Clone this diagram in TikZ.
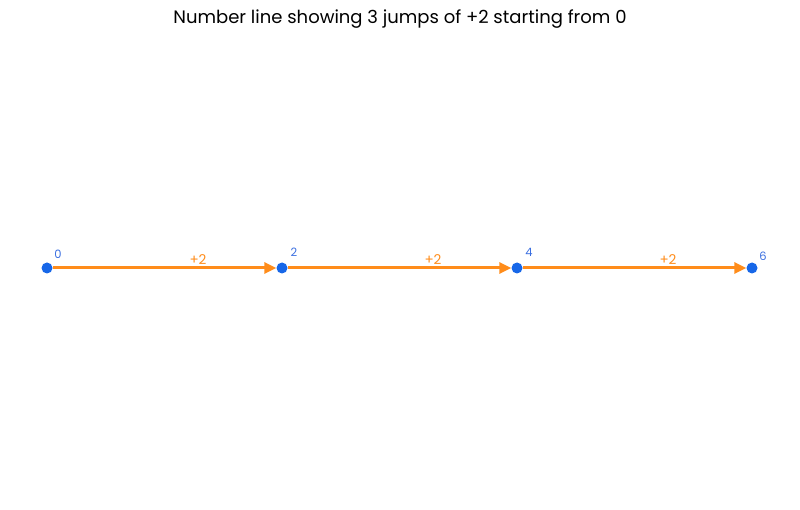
\documentclass[tikz,border=0pt]{standalone}
\usepackage{fontspec}
\setmainfont{Poppins}
\usepackage{xcolor}
\usepackage{tikz}
\usetikzlibrary{arrows.meta}
\definecolor{ptblue}{HTML}{1767E8}
\definecolor{labblue}{HTML}{3B6FE0}
\definecolor{jump}{HTML}{FF8C1A}
\tikzset{
  pt/.style={circle, fill=ptblue, inner sep=0pt, minimum size=11pt},
  hop/.style={draw=jump, line width=3pt, -{Triangle[length=12pt,width=11pt]}},
  numlab/.style={text=labblue, font=\fontsize{11.5}{13}\selectfont},
  hoplab/.style={text=jump, font=\fontsize{13.5}{15}\selectfont},
  ttl/.style={text=black, font=\fontsize{18}{21}\selectfont},
}
\begin{document}
\begin{tikzpicture}[x=1pt,y=-1pt]
  \useasboundingbox (0,0) rectangle (800,510);
  \node[ttl] (title) at (400,19) {Number line showing 3 jumps of +2 starting from 0};
  \node[pt] (p0) at (47,268) {};
  \node[pt] (p2) at (282,268) {};
  \node[pt] (p4) at (517,268) {};
  \node[pt] (p6) at (752,268) {};
  \draw[hop] (p0) -- (p2);
  \draw[hop] (p2) -- (p4);
  \draw[hop] (p4) -- (p6);
  \node[numlab] (l0) at (58,254) {0};
  \node[numlab] (l2) at (294,252) {2};
  \node[numlab] (l4) at (529,252) {4};
  \node[numlab] (l6) at (763,256) {6};
  \node[hoplab] (h1) at (198,260) {+2};
  \node[hoplab] (h2) at (433,260) {+2};
  \node[hoplab] (h3) at (668,260) {+2};
\end{tikzpicture}
\end{document}
